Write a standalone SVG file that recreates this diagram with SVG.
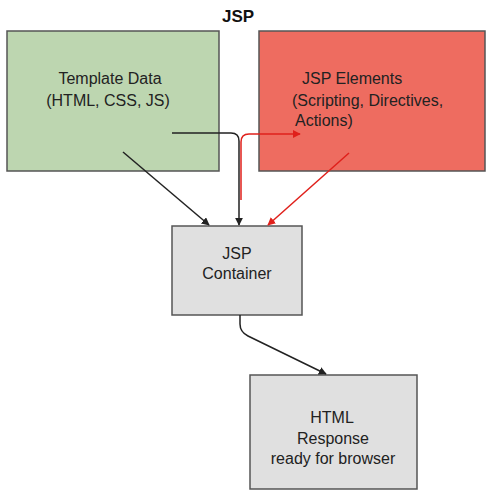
<svg xmlns="http://www.w3.org/2000/svg" width="497" height="504" viewBox="0 0 497 504">
<defs>
<style>
.box{stroke:#555;stroke-width:1.5}
.t{font-family:"Liberation Sans",Arial,sans-serif;font-size:16px;fill:#222}
.c{text-anchor:middle}
.k{fill:none;stroke:#222;stroke-width:1.5}
.r{fill:none;stroke:#e0201b;stroke-width:1.5}
</style>
<marker id="ak" viewBox="0 0 10 10" refX="9" refY="5" markerWidth="8" markerHeight="8" markerUnits="userSpaceOnUse" orient="auto"><path d="M0,0L10,5L0,10z" fill="#222"/></marker>
<marker id="ar" viewBox="0 0 10 10" refX="9" refY="5" markerWidth="8" markerHeight="8" markerUnits="userSpaceOnUse" orient="auto"><path d="M0,0L10,5L0,10z" fill="#e0201b"/></marker>
</defs>
<rect width="497" height="504" fill="#fff"/>
<text x="238" y="22" class="t c" style="font-weight:bold;font-size:17px;fill:#111">JSP</text>
<g id="template">
<rect x="7" y="31" width="212" height="140" fill="#bdd6b0" class="box"/>
<text x="110" y="84" class="t c">Template Data</text>
<text x="108" y="106" class="t c">(HTML, CSS, JS)</text>
</g>
<g id="elements">
<rect x="259" y="31" width="226" height="140" fill="#ee6c60" class="box"/>
<text x="302" y="84" class="t">JSP Elements</text>
<text x="292" y="106" class="t">(Scripting, Directives,</text>
<text x="295" y="126" class="t">Actions)</text>
</g>
<g id="container">
<rect x="172" y="226" width="130" height="89" fill="#e0e0e0" class="box"/>
<text x="237" y="259" class="t c">JSP</text>
<text x="237" y="279" class="t c">Container</text>
</g>
<g id="response">
<rect x="250" y="375" width="167" height="114" fill="#e0e0e0" class="box"/>
<text x="332" y="423" class="t c">HTML</text>
<text x="333" y="444" class="t c">Response</text>
<text x="333" y="464" class="t c">ready for browser</text>
</g>
<g id="connectors">
<path d="M123,152L209,225" class="k" marker-end="url(#ak)"/>
<path d="M172,133L231,133Q239,133 239,141L239,225" class="k" marker-end="url(#ak)"/>
<path d="M241,200L241,142Q241,134 249,134L300,134" class="r" marker-end="url(#ar)"/>
<path d="M349,153L268,225" class="r" marker-end="url(#ar)"/>
<path d="M240,315L240,324Q240,332 248,336L326,374" class="k" marker-end="url(#ak)"/>
</g>
</svg>
